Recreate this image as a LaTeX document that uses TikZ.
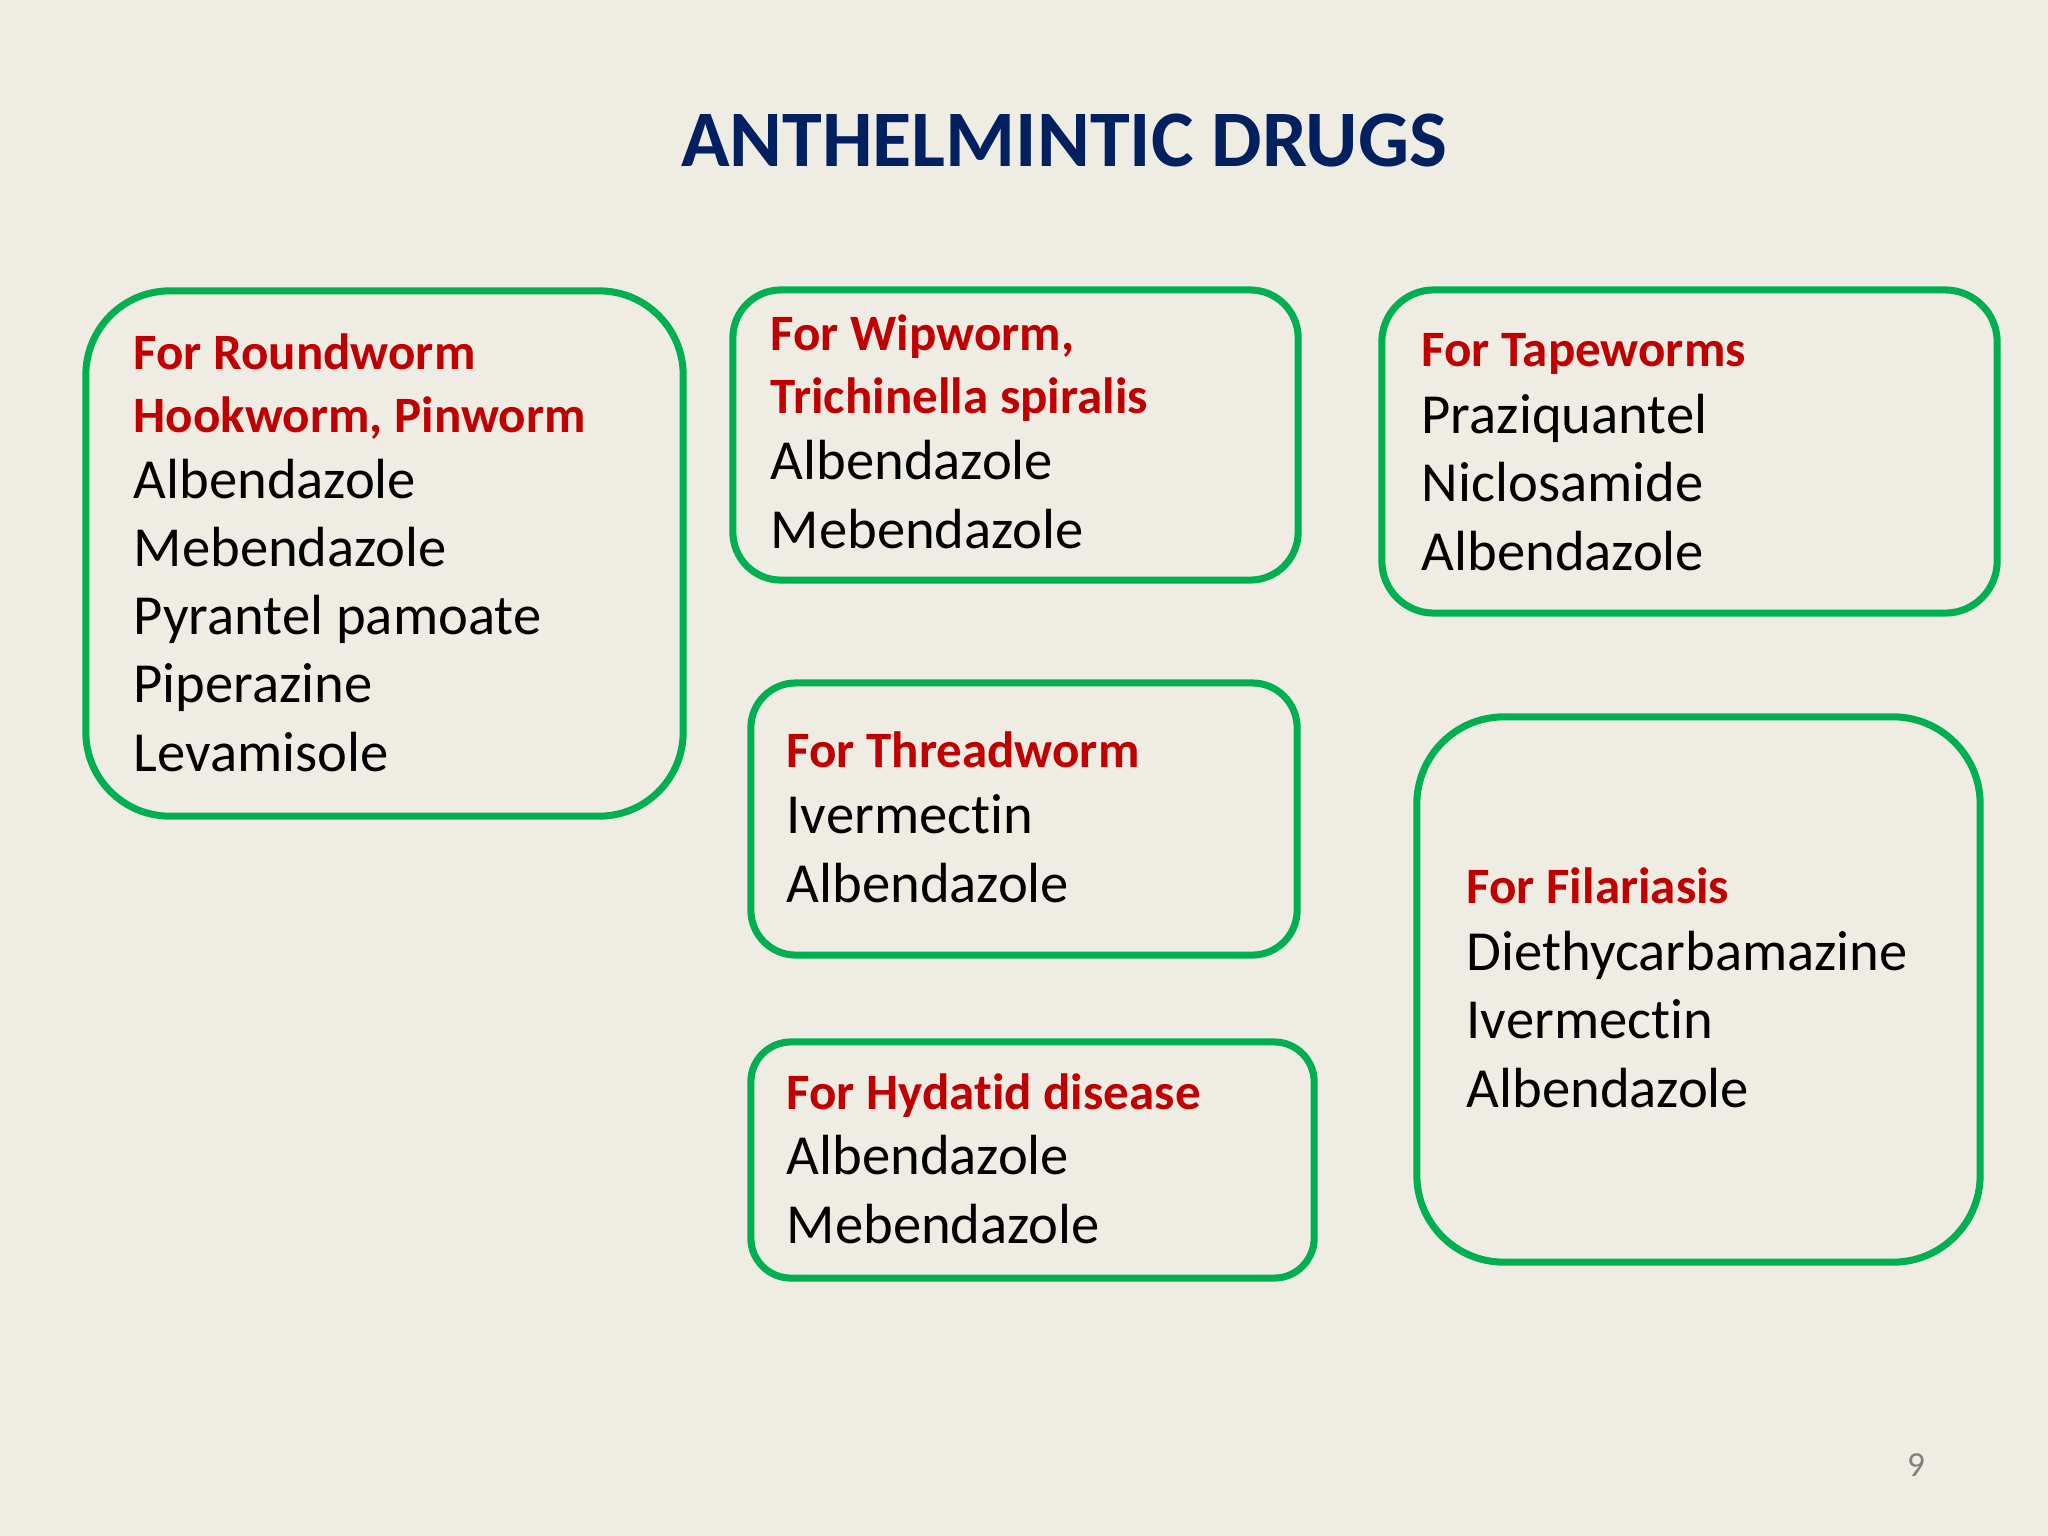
\documentclass[tikz,border=0pt]{standalone}
\usepackage{fontspec}
\setmainfont[Ligatures=NoCommon]{Carlito}
\usepackage{xcolor}
\usepackage{tikz}

\definecolor{slidebg}{HTML}{EFEDE3}
\definecolor{boxgreen}{HTML}{00B050}
\definecolor{headred}{HTML}{C00000}
\definecolor{titleblue}{HTML}{002060}

\begin{document}
\begin{tikzpicture}[x=0.01cm, y=-0.01cm,
    box/.style={draw=boxgreen, line width=2pt, rounded corners=#1, inner sep=0pt},
    head/.style={anchor=base west, inner sep=0pt, align=left, text=headred,
        font=\fontsize{14.5}{17.8}\selectfont\bfseries},
    drugs/.style={anchor=base west, inner sep=0pt, align=left,
        font=\fontsize{16.1}{19.35}\selectfont}]
    \fill[slidebg] (0,0) rectangle (2048,1536);
    \useasboundingbox (0,0) rectangle (2048,1536);

    \node[anchor=base, text=titleblue, font=\fontsize{22.8}{27}\selectfont\bfseries] (title) at (1064,166) {ANTHELMINTIC DRUGS};

    % round-, hook- and pinworm
    \node[box=0.84cm, minimum width=5.97cm, minimum height=5.25cm] (round) at (384.5,553.5) {};
    \node[head] (roundhead) at (133,432) {For Roundworm\\Hookworm, Pinworm};
    \node[drugs] (rounddrugs) at (133,771) {Albendazole\\Mebendazole\\Pyrantel pamoate\\Piperazine\\Levamisole};

    % whipworm
    \node[box=0.48cm, minimum width=5.65cm, minimum height=2.9cm] (whip) at (1015.5,435) {};
    \node[head] (whiphead) at (770,413) {For Wipworm,\\Trichinella spiralis};
    \node[drugs] (whipdrugs) at (770,548) {Albendazole\\Mebendazole};

    % tapeworms
    \node[box=0.52cm, minimum width=6.15cm, minimum height=3.23cm] (tape) at (1689.5,451.5) {};
    \node[head] (tapehead) at (1421,366) {For Tapeworms};
    \node[drugs] (tapedrugs) at (1421,570) {Praziquantel\\Niclosamide\\Albendazole};

    % threadworm
    \node[box=0.45cm, minimum width=5.46cm, minimum height=2.72cm] (thread) at (1024,819) {};
    \node[head] (threadhead) at (786,767) {For Threadworm};
    \node[drugs] (threaddrugs) at (786,902) {Ivermectin\\Albendazole};

    % hydatid
    \node[box=0.4cm, minimum width=5.63cm, minimum height=2.36cm] (hydatid) at (1032.5,1160) {};
    \node[head] (hydatidhead) at (786,1109) {For Hydatid disease};
    \node[drugs] (hydatiddrugs) at (786,1243) {Albendazole\\Mebendazole};

    % filariasis
    \node[box=0.87cm, minimum width=5.63cm, minimum height=5.45cm] (filaria) at (1698.5,989.5) {};
    \node[head] (filariahead) at (1466,903) {For Filariasis};
    \node[drugs] (filariadrugs) at (1466,1107) {Diethycarbamazine\\Ivermectin\\Albendazole};

    \node[anchor=base, text=gray, font=\fontsize{10}{12}\selectfont] (page) at (1916,1476) {9};
\end{tikzpicture}
\end{document}
